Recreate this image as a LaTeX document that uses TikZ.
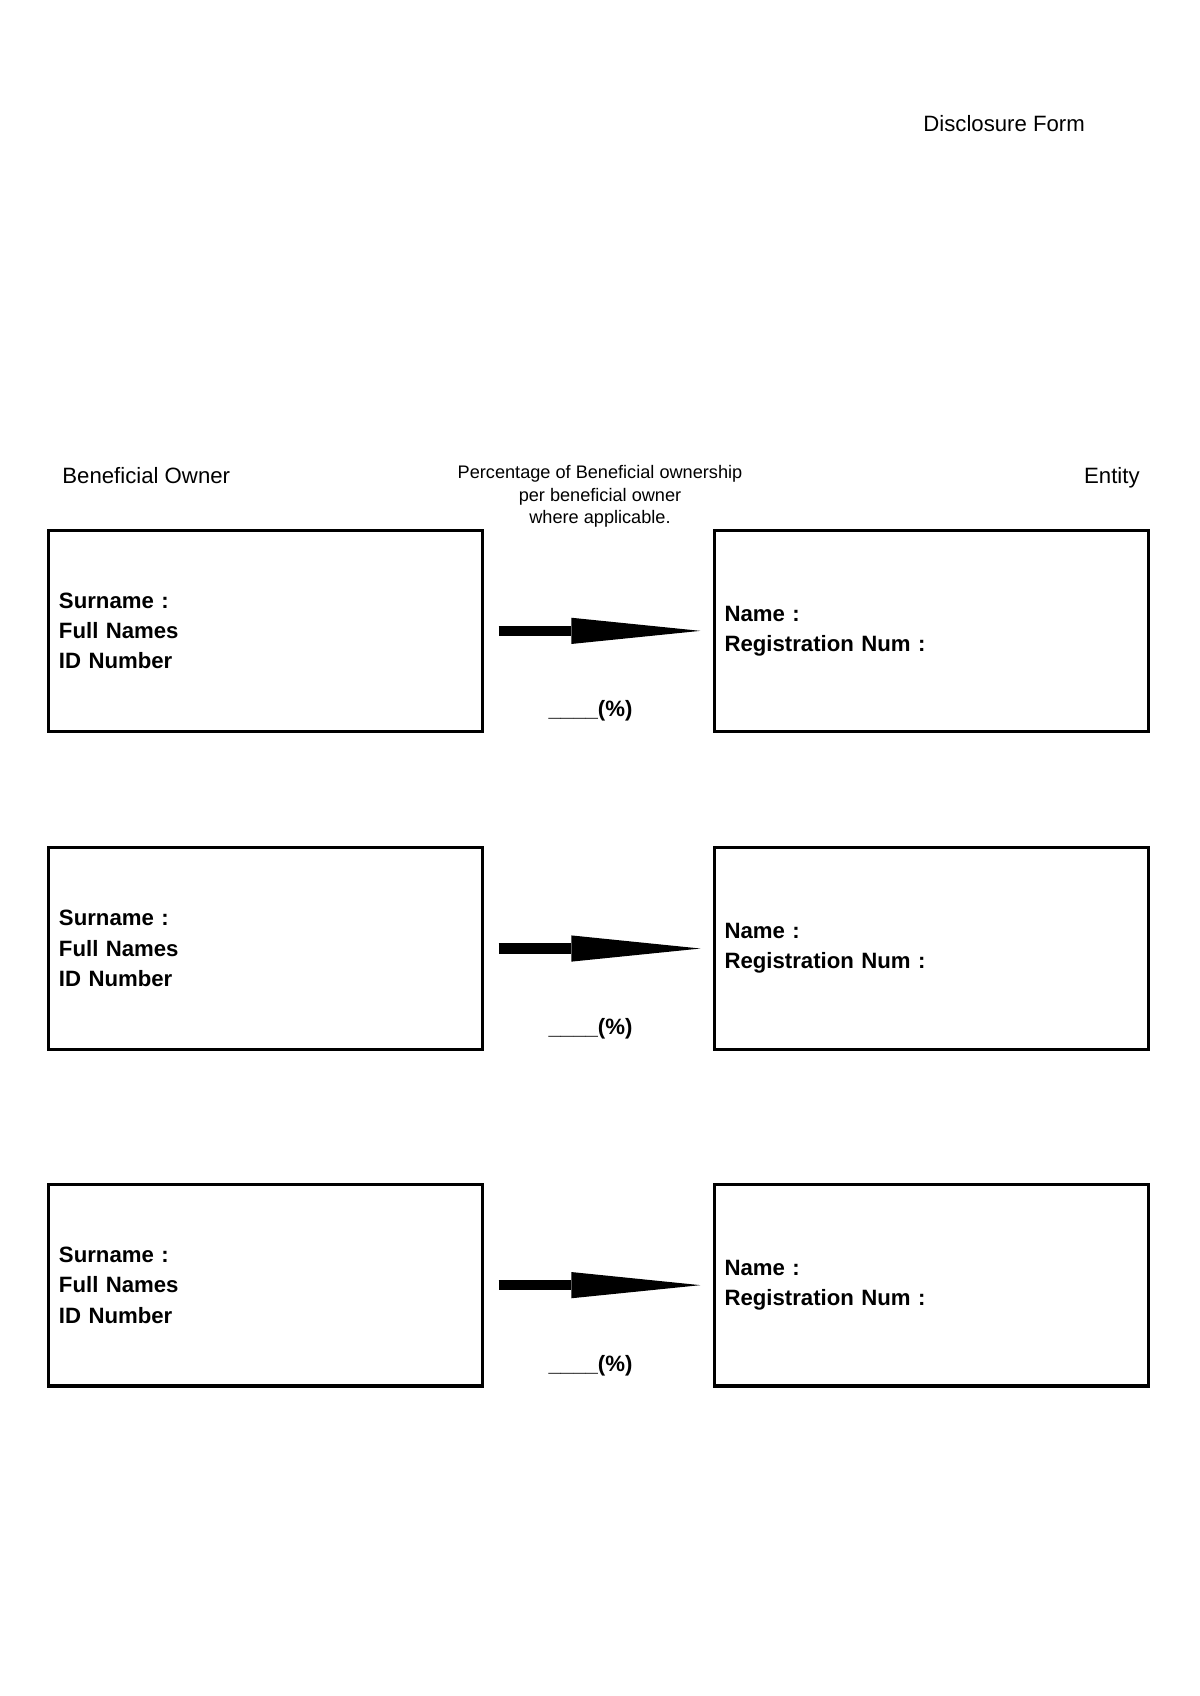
\documentclass[tikz,border=0pt]{standalone}
\usepackage{fontspec}
\setmainfont{Liberation Sans}
\usetikzlibrary{arrows.meta,calc,graphs}
\tikzset{
    ampersand replacement=\&,
    >={Triangle[length=64pt,width=13pt,line width=0pt]},
    holder/.style={draw, rectangle, line width=1.5pt, minimum width=215pt, minimum height=100pt,
        text width=205pt, inner xsep=5pt, align=left, font=\fontsize{11}{15}\selectfont\bfseries},
    caption/.style={inner sep=0pt, font=\fontsize{11}{13}\selectfont},
    note/.style={inner sep=0pt, align=center, font=\fontsize{9}{11.2}\selectfont},
    share/.style={inner sep=0pt, font=\fontsize{11}{13}\selectfont\bfseries},
}

\begin{document}
\begin{tikzpicture}[x=0.4958pt, y=-0.4958pt]
            \useasboundingbox (0,0) rectangle (1200,1696);

            \node[caption, anchor=base west] (title) at (923,132) {Disclosure Form};
            \node[caption, anchor=base west] (owner) at (62,483) {Beneficial Owner};
            \node[caption, anchor=base east] (entity) at (1140,483) {Entity};
            \node[note, anchor=north] (pct) at (600,465)
                {Percentage of Beneficial ownership\\per beneficial owner\\where applicable.};

            \matrix[row sep=56pt, column sep=113.5pt] at (598.5,958) {
                \node[holder] (B1) {Surname :\\Full Names\\ID Number} ; \&
                \node[holder] (E1) {Name :\\Registration Num :} ; \\
                \node[holder] (B2) {Surname :\\Full Names\\ID Number} ; \&
                \node[holder] (E2) {Name :\\Registration Num :} ; \\[9.4pt]
                \node[holder] (B3) {Surname :\\Full Names\\ID Number} ; \&
                \node[holder] (E3) {Name :\\Registration Num :} ; \\
            } ;

            \graph[use existing nodes, edges={line width=5pt, shorten <=7.2pt, shorten >=6.2pt}] {
                B1 -> E1 ;
                B2 -> E2 ;
                B3 -> E3 ;
            } ;

            \node[share, anchor=base] (S1) at ($(B1.east)!0.5!(E1.west)+(-8,86)$) {\_\_\_\_(\%)};
            \node[share, anchor=base] (S2) at ($(B2.east)!0.5!(E2.west)+(-8,86)$) {\_\_\_\_(\%)};
            \node[share, anchor=base] (S3) at ($(B3.east)!0.5!(E3.west)+(-8,86)$) {\_\_\_\_(\%)};
        \end{tikzpicture}
\end{document}
